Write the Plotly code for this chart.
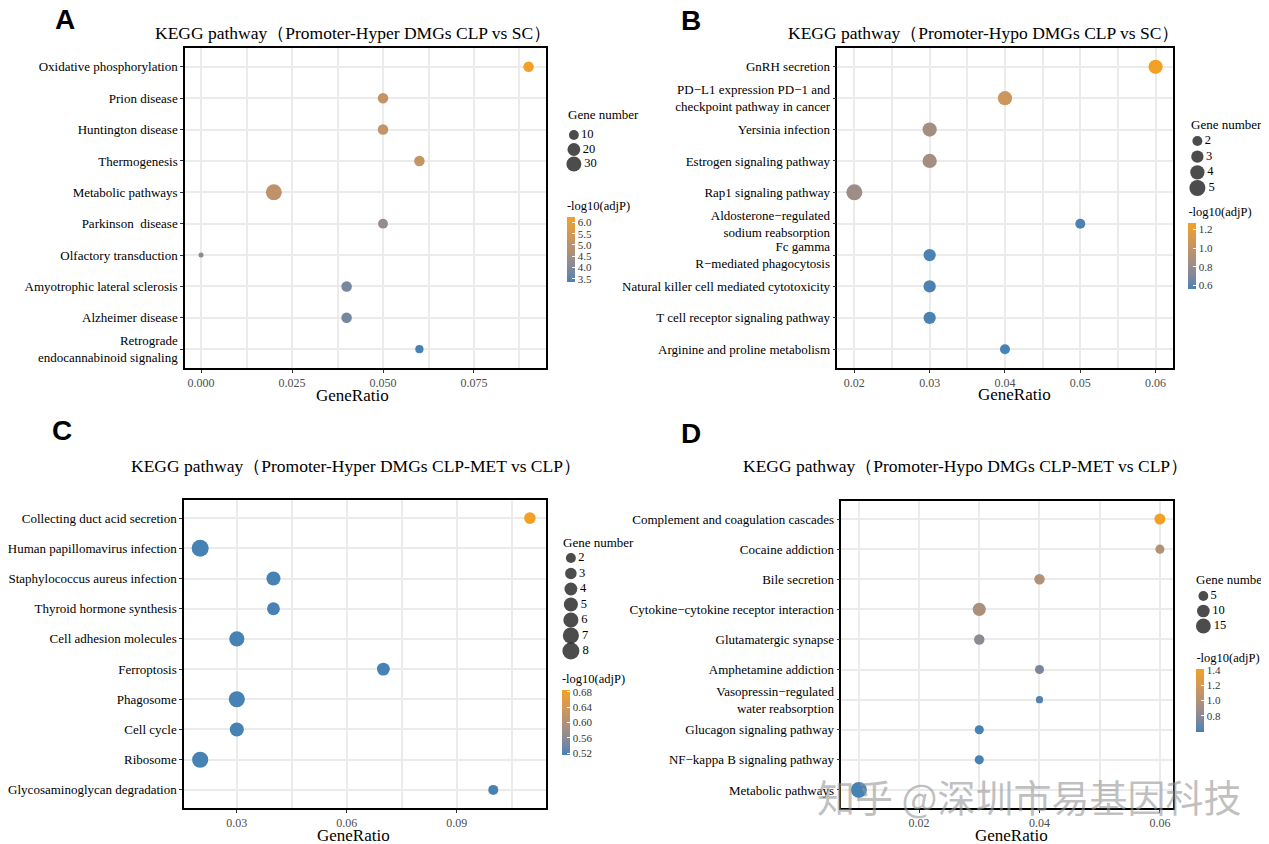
import numpy as np
import plotly.graph_objects as go

W, H = 1269, 844          # target picture size
OFF = 8                   # default page body margin
FW, FH = W - OFF, H - OFF  # figure size so that the figure fills the window
SERIF = "Liberation Serif"

def px(X):
    return (X - OFF) / FW

def py(Y):
    return 1 - (Y - OFF) / FH

# ---------------- data ----------------
# Panel A
a_title = "KEGG pathway（Promoter-Hyper DMGs CLP vs SC）"
a_terms = ["Oxidative phosphorylation", "Prion disease", "Huntington disease", "Thermogenesis",
           "Metabolic pathways", "Parkinson  disease", "Olfactory transduction",
           "Amyotrophic lateral sclerosis", "Alzheimer disease",
           "Retrograde<br>endocannabinoid signaling"]
a_ratio = [0.09, 0.05, 0.05, 0.06, 0.02, 0.05, 0.0, 0.04, 0.04, 0.06]
a_count = [12, 12, 12, 12, 35, 10, 1, 12, 12, 6]
a_logp = [6.24, 5.15, 5.15, 5.2, 5.05, 4.3, 4.2, 3.85, 3.85, 3.36]
a_size_breaks = [10, 20, 30]
a_color_ticks = [3.5, 4.0, 4.5, 5.0, 5.5, 6.0]
a_x_ticks = [0.0, 0.025, 0.05, 0.075]

# Panel B
b_title = "KEGG pathway（Promoter-Hypo DMGs CLP vs SC）"
b_terms = ["GnRH secretion", "PD−L1 expression PD−1 and<br>checkpoint pathway in cancer",
           "Yersinia infection", "Estrogen signaling pathway", "Rap1 signaling pathway",
           "Aldosterone−regulated<br>sodium reabsorption", "Fc gamma<br>R−mediated phagocytosis",
           "Natural killer cell mediated cytotoxicity", "T cell receptor signaling pathway",
           "Arginine and proline metabolism"]
b_ratio = [0.06, 0.04, 0.03, 0.03, 0.02, 0.05, 0.03, 0.03, 0.03, 0.04]
b_count = [4, 4, 4, 4, 5, 2, 3, 3, 3, 2]
b_logp = [1.27, 1.05, 0.85, 0.85, 0.82, 0.57, 0.57, 0.57, 0.57, 0.56]
b_size_breaks = [2, 3, 4, 5]
b_color_ticks = [0.6, 0.8, 1.0, 1.2]
b_x_ticks = [0.02, 0.03, 0.04, 0.05, 0.06]

# Panel C
c_title = "KEGG pathway（Promoter-Hyper DMGs CLP-MET vs CLP）"
c_terms = ["Collecting duct acid secretion", "Human papillomavirus infection",
           "Staphylococcus aureus infection", "Thyroid hormone synthesis",
           "Cell adhesion molecules", "Ferroptosis", "Phagosome", "Cell cycle", "Ribosome",
           "Glycosaminoglycan degradation"]
c_ratio = [0.11, 0.02, 0.04, 0.04, 0.03, 0.07, 0.03, 0.03, 0.02, 0.10]
c_count = [3, 8, 5, 4, 6, 4, 7, 5, 7, 2]
c_logp = [0.685, 0.515, 0.515, 0.515, 0.515, 0.515, 0.515, 0.515, 0.515, 0.515]
c_size_breaks = [2, 3, 4, 5, 6, 7, 8]
c_color_ticks = [0.52, 0.56, 0.60, 0.64, 0.68]
c_x_ticks = [0.03, 0.06, 0.09]

# Panel D
d_title = "KEGG pathway（Promoter-Hypo DMGs CLP-MET vs CLP）"
d_terms = ["Complement and coagulation cascades", "Cocaine addiction", "Bile secretion",
           "Cytokine−cytokine receptor interaction", "Glutamatergic synapse",
           "Amphetamine addiction", "Vasopressin−regulated<br>water reabsorption",
           "Glucagon signaling pathway", "NF−kappa B signaling pathway", "Metabolic pathways"]
d_ratio = [0.06, 0.06, 0.04, 0.03, 0.03, 0.04, 0.04, 0.03, 0.03, 0.01]
d_count = [7, 4, 6, 11, 6, 4, 2, 4, 4, 18]
d_logp = [1.41, 1.0, 1.0, 0.97, 0.82, 0.75, 0.62, 0.59, 0.59, 0.59]
d_size_breaks = [5, 10, 15]
d_color_ticks = [0.8, 1.0, 1.2, 1.4]
d_x_ticks = [0.02, 0.04, 0.06]

panel_letters = ["A", "B", "C", "D"]
watermark = "知乎 @深圳市易基因科技"

# ---------------- colour scale (Lab interpolation steelblue -> orange) ----------------
def _hex_to_rgb(h):
    h = h.lstrip('#')
    return [int(h[i:i + 2], 16) / 255 for i in (0, 2, 4)]

def _lin(c):
    return c / 12.92 if c <= 0.04045 else ((c + 0.055) / 1.055) ** 2.4

def _delin(c):
    c = max(0.0, min(1.0, c))
    return 12.92 * c if c <= 0.0031308 else 1.055 * c ** (1 / 2.4) - 0.055

def rgb_to_lab(rgb):
    r, g, b = [_lin(c) for c in rgb]
    X = (0.4124 * r + 0.3576 * g + 0.1805 * b) / 0.95047
    Y = (0.2126 * r + 0.7152 * g + 0.0722 * b)
    Z = (0.0193 * r + 0.1192 * g + 0.9505 * b) / 1.08883
    f = lambda t: t ** (1 / 3) if t > 0.008856 else 7.787 * t + 16 / 116
    fx, fy, fz = f(X), f(Y), f(Z)
    return [116 * fy - 16, 500 * (fx - fy), 200 * (fy - fz)]

def lab_to_rgb(lab):
    L, a, b = lab
    fy = (L + 16) / 116
    fx = fy + a / 500
    fz = fy - b / 200
    finv = lambda t: t ** 3 if t ** 3 > 0.008856 else (t - 16 / 116) / 7.787
    X, Y, Z = finv(fx) * 0.95047, finv(fy), finv(fz) * 1.08883
    r = 3.2406 * X - 1.5372 * Y - 0.4986 * Z
    g = -0.9689 * X + 1.8758 * Y + 0.0415 * Z
    bb = 0.0557 * X - 0.2040 * Y + 1.0570 * Z
    return [round(_delin(c) * 255) for c in (r, g, bb)]

def lab_scale(lo, hi, n=15):
    l1, l2 = rgb_to_lab(_hex_to_rgb(lo)), rgb_to_lab(_hex_to_rgb(hi))
    out = []
    for i in range(n):
        t = i / (n - 1)
        c = lab_to_rgb([l1[j] + (l2[j] - l1[j]) * t for j in range(3)])
        out.append([t, "rgb(%d,%d,%d)" % tuple(c)])
    return out

CSCALE = lab_scale("#4682B4", "#F2A124")

def size_fn(anchors):
    (n1, d1), (n2, d2) = anchors
    c = (d2 - d1) / (np.sqrt(n2) - np.sqrt(n1))
    e = d1 - c * np.sqrt(n1)
    return lambda n: (e + c * np.sqrt(np.asarray(n, float))).tolist()

# ---------------- per-panel layout (pixels in the target picture) ----------------
panels = [
    dict(terms=a_terms, ratio=a_ratio, count=a_count, logp=a_logp, breaks=a_size_breaks,
         cticks=a_color_ticks, xticks=a_x_ticks, title=a_title, fmt="%.3f",
         box=(179, 48, 542, 368), xr=(-0.0044, 0.0948), minor=0.0125,
         tpos=(348, 33), xlab=(347, 395), letter=(58, 19), anchors=((1, 5), (35, 16)),
         lgt=(562, 115), ldx=570, ldy=(135, 164), cb=(563, 282, 60), cfmt="%.1f"),
    dict(terms=b_terms, ratio=b_ratio, count=b_count, logp=b_logp, breaks=b_size_breaks,
         cticks=b_color_ticks, xticks=b_x_ticks, title=b_title, fmt="%.2f",
         box=(835, 48, 1172, 368), xr=(0.01775, 0.06225), minor=0.005,
         tpos=(982, 33), xlab=(1013, 394), letter=(688, 21), anchors=((2, 10), (5, 16)),
         lgt=(1189, 125), ldx=1197, ldy=(141, 188), cb=(1188, 289, 61), cfmt="%.1f"),
    dict(terms=c_terms, ratio=c_ratio, count=c_count, logp=c_logp, breaks=c_size_breaks,
         cticks=c_color_ticks, xticks=c_x_ticks, title=c_title, fmt="%.2f",
         box=(178, 500, 542, 808), xr=(0.0156, 0.1144), minor=0.015,
         tpos=(351, 466), xlab=(348, 835), letter=(55, 431), anchors=((2, 10), (8, 17)),
         lgt=(557, 542), ldx=567, ldy=(558, 651), cb=(558, 755, 60), cfmt="%.2f"),
    dict(terms=d_terms, ratio=d_ratio, count=d_count, logp=d_logp, breaks=d_size_breaks,
         cticks=d_color_ticks, xticks=d_x_ticks, title=d_title, fmt="%.2f",
         box=(839, 501, 1172, 808), xr=(0.0071, 0.0621), minor=0.01,
         tpos=(964, 466), xlab=(1010, 835), letter=(688, 433), anchors=((2, 7.3), (18, 16)),
         lgt=(1194, 579), ldx=1203, ldy=(596, 626), cb=(1196, 732, 58), cfmt="%.1f"),
]

fig = go.Figure()
layout = dict(width=FW, height=FH, margin=dict(l=0, r=0, t=0, b=0),
              paper_bgcolor="white", plot_bgcolor="white", showlegend=False,
              font=dict(family=SERIF, color="black"))
annotations = []

for k, p in enumerate(panels, start=1):
    sf = size_fn(p["anchors"])
    ax = "" if k == 1 else str(k)
    L = k + 4
    x0, y0, x1, y1 = p["box"]
    n = len(p["terms"])

    fig.add_trace(go.Scatter(
        x=p["ratio"], y=p["terms"], mode="markers", xaxis="x" + ax, yaxis="y" + ax,
        marker=dict(size=sf(p["count"]), color=p["logp"], coloraxis="coloraxis" + ax,
                    line=dict(width=0), opacity=1),
        cliponaxis=False, hoverinfo="skip"))

    layout["xaxis" + ax] = dict(
        domain=[px(x0), px(x1)], anchor="y" + ax, range=list(p["xr"]),
        tickvals=p["xticks"], ticktext=[p["fmt"] % v for v in p["xticks"]],
        showgrid=True, gridcolor="#EBEBEB", gridwidth=1.6,
        minor=dict(dtick=p["minor"], tick0=0, showgrid=True, gridcolor="#EBEBEB", gridwidth=1.6),
        ticks="outside", ticklen=3, tickcolor="#333333", tickwidth=1,
        tickfont=dict(family=SERIF, size=12, color="#4D4D4D"),
        showline=True, mirror=True, linecolor="black", linewidth=1.5, zeroline=False)
    layout["yaxis" + ax] = dict(
        domain=[py(y1), py(y0)], anchor="x" + ax, type="category",
        categoryorder="array", categoryarray=p["terms"], range=[n - 1 + 0.6, -0.6],
        showgrid=True, gridcolor="#EBEBEB", gridwidth=2,
        ticks="outside", ticklen=3, tickcolor="#333333", tickwidth=1,
        tickfont=dict(family=SERIF, size=13, color="black"),
        showline=True, mirror=True, linecolor="black", linewidth=1.5, zeroline=False)

    # colour axis / colour bar
    cbx, cbb, cbl = p["cb"]
    layout["coloraxis" + ax] = dict(
        colorscale=CSCALE,
        colorbar=dict(x=px(cbx), xanchor="left", y=py(cbb), yanchor="bottom",
                      len=cbl + 24, lenmode="pixels", thickness=8, thicknessmode="pixels",
                      xpad=0, ypad=0, outlinewidth=0,
                      title=dict(text="-log10(adjP)", side="top",
                                 font=dict(family=SERIF, size=12.5, color="black")),
                      tickvals=p["cticks"], ticktext=[p["cfmt"] % v for v in p["cticks"]],
                      ticks="inside", ticklen=3, tickcolor="white",
                      tickfont=dict(family=SERIF, size=11, color="#333333")))

    # size legend on its own hidden axes
    br = p["breaks"]
    nb = len(br)
    ya, yb = p["ldy"]
    s = (yb - ya) / (nb - 1)
    pad = 12
    ldx = p["ldx"]
    fig.add_trace(go.Scatter(
        x=[0] * nb, y=list(range(nb)), mode="markers+text", text=[str(b) for b in br],
        textposition="middle right", textfont=dict(family=SERIF, size=12.5, color="black"),
        marker=dict(size=sf(br), color="black", line=dict(width=0)),
        xaxis="x%d" % L, yaxis="y%d" % L, cliponaxis=False, hoverinfo="skip"))
    layout["xaxis%d" % L] = dict(domain=[px(ldx - 12), px(ldx + 40)], range=[-12, 40],
                                 visible=False, anchor="y%d" % L, fixedrange=True)
    layout["yaxis%d" % L] = dict(domain=[py(yb + pad), py(ya - pad)],
                                 range=[(nb - 1) + pad / s, -pad / s],
                                 visible=False, anchor="x%d" % L, fixedrange=True)
    annotations.append(dict(text="Gene number", x=px(p["lgt"][0]), y=py(p["lgt"][1]),
                            xref="paper", yref="paper", xanchor="left", yanchor="middle",
                            showarrow=False, font=dict(family=SERIF, size=13, color="black")))

    # title, x-label, panel letter
    annotations.append(dict(text=p["title"], x=px(p["tpos"][0]), y=py(p["tpos"][1]),
                            xref="paper", yref="paper", xanchor="center", yanchor="middle",
                            showarrow=False, font=dict(family=SERIF, size=17.5, color="black")))
    annotations.append(dict(text="GeneRatio", x=px(p["xlab"][0]), y=py(p["xlab"][1]),
                            xref="paper", yref="paper", xanchor="center", yanchor="middle",
                            showarrow=False, font=dict(family=SERIF, size=17, color="black")))
    annotations.append(dict(text="<b>%s</b>" % panel_letters[k - 1],
                            x=px(p["letter"][0]), y=py(p["letter"][1]),
                            xref="paper", yref="paper", xanchor="center", yanchor="middle",
                            showarrow=False,
                            font=dict(family="Liberation Sans", size=28, color="black")))

annotations.append(dict(text=watermark, x=px(1028), y=py(795), xref="paper", yref="paper",
                        xanchor="center", yanchor="middle", showarrow=False,
                        font=dict(family="Noto Sans CJK SC", size=38,
                                  color="rgba(150,150,150,0.6)")))
layout["annotations"] = annotations
fig.update_layout(**layout)
fig.write_html("out.html")
